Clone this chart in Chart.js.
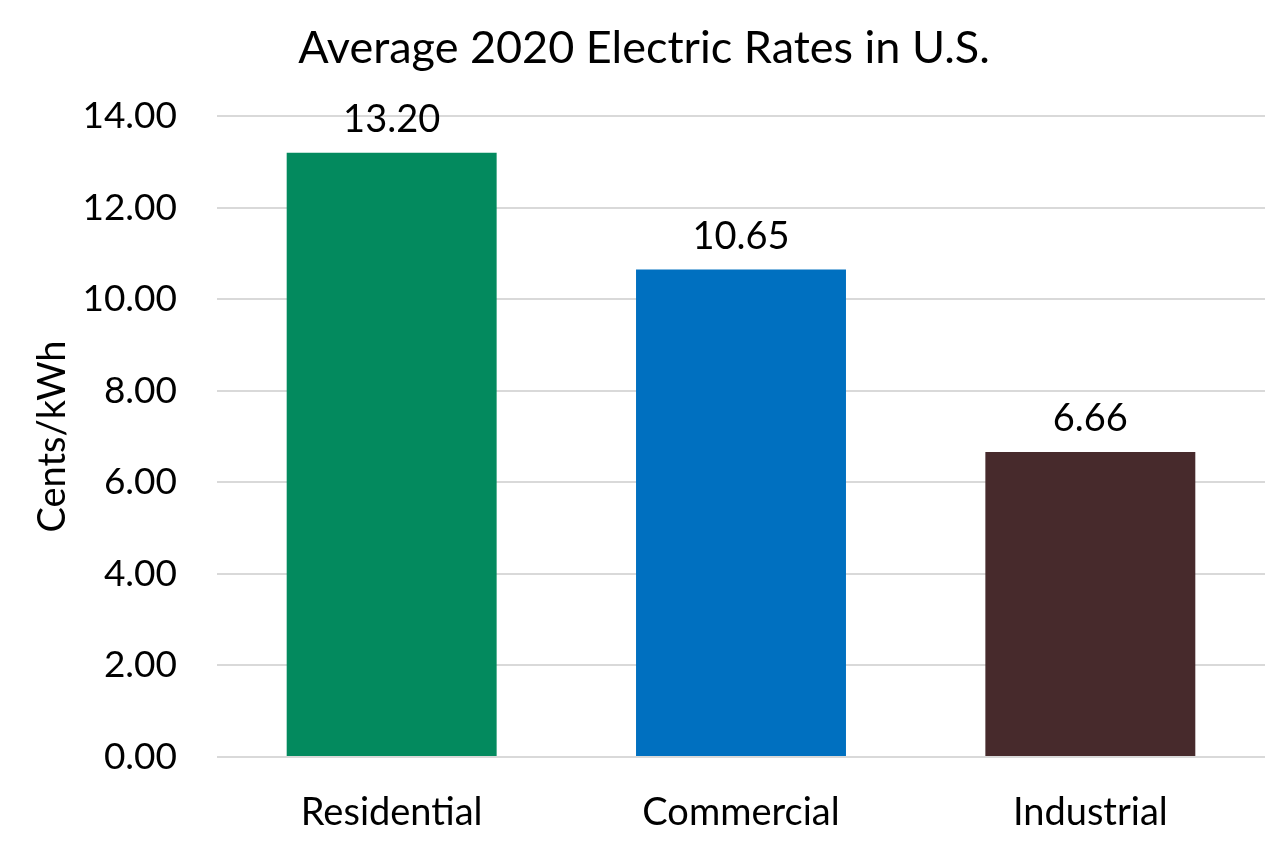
<!DOCTYPE html>
<html>
<head>
<meta charset="utf-8">
<script src="https://cdn.jsdelivr.net/npm/chart.js@4.4.0/dist/chart.umd.min.js"></script>
<style>
  html, body { margin: 0; padding: 0; background: #fff; }
  #wrap { width: 1288px; height: 848px; }
</style>
</head>
<body>
<div id="wrap"><canvas id="bar-chart" width="1288" height="848"></canvas></div>
<script>
// values
var categories = ['Residential', 'Commercial', 'Industrial'];
var rates = [13.20, 10.65, 6.66];
var barColors = ['#038A5E', '#0070C0', '#472A2C'];
var yTicks = [0, 2, 4, 6, 8, 10, 12, 14];

var font = 'Lato, "Open Sans", sans-serif';

// draws the value above each bar
var valueLabels = {
    id: 'valueLabels',
    afterDatasetsDraw: function(chart) {
        var ctx = chart.ctx;
        var meta = chart.getDatasetMeta(0);
        ctx.save();
        ctx.font = '38px ' + font;
        ctx.fillStyle = '#000';
        ctx.textAlign = 'center';
        ctx.textBaseline = 'bottom';
        meta.data.forEach(function(bar, i) {
            ctx.fillText(rates[i].toFixed(2), bar.x, bar.y - 14);
        });
        ctx.restore();
    }
};

new Chart(document.getElementById('bar-chart'), {
    type: 'bar',
    data: {
        labels: categories,
        datasets: [{
            label: 'Cents/kWh',
            data: rates,
            backgroundColor: barColors,
            categoryPercentage: 1.0,
            barPercentage: 0.601
        }]
    },
    options: {
        responsive: false,
        animation: false,
        layout: { padding: 0 },
        plugins: {
            legend: { display: false },
            tooltip: { enabled: false },
            title: {
                display: true,
                text: 'Average 2020 Electric Rates in U.S.',
                color: '#000',
                font: { family: font, size: 45, weight: 'normal' },
                padding: { top: 21, bottom: 41 }
            }
        },
        scales: {
            x: {
                grid: { display: false },
                border: { display: false },
                afterFit: function(scale) { scale.height = 91; },
                ticks: {
                    color: '#000',
                    font: { family: font, size: 38 },
                    padding: 25
                }
            },
            y: {
                min: 0,
                max: 14,
                afterBuildTicks: function(scale) {
                    scale.ticks = yTicks.map(function(v) { return { value: v }; });
                },
                afterFit: function(scale) { scale.width = 217; },
                grid: { color: '#D9D9D9', lineWidth: 2, drawTicks: false },
                border: { display: false },
                title: {
                    display: true,
                    text: 'Cents/kWh',
                    color: '#000',
                    font: { family: font, size: 38 },
                    padding: { top: 30, bottom: 0 }
                },
                ticks: {
                    color: '#000',
                    font: { family: font, size: 37 },
                    padding: 40,
                    callback: function(v) { return Number(v).toFixed(2); }
                }
            },
            // empty right margin so the title centres on the whole page
            yRight: {
                position: 'right',
                display: true,
                grid: { display: false },
                border: { display: false },
                ticks: { display: false },
                afterFit: function(scale) { scale.width = 23; }
            }
        }
    },
    plugins: [valueLabels]
});
</script>
</body>
</html>
